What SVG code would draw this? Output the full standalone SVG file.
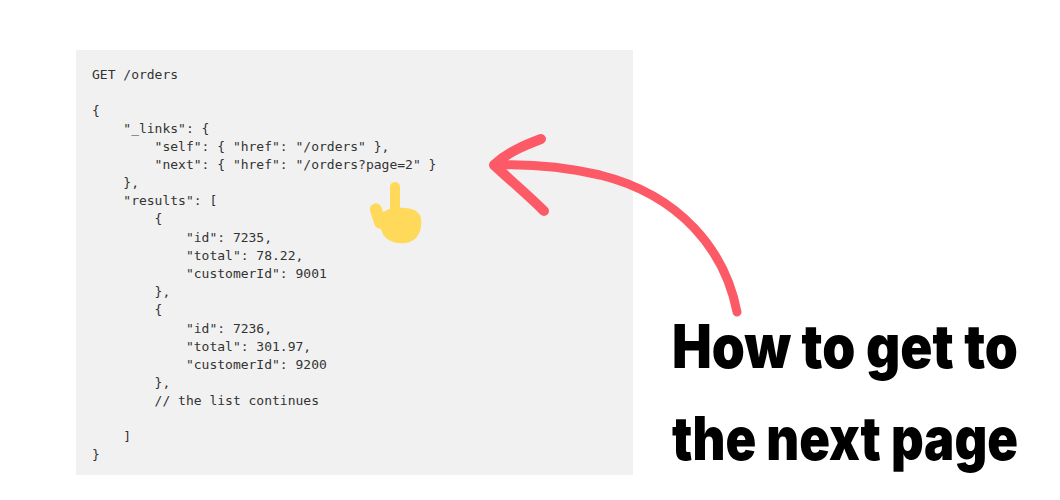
<svg xmlns="http://www.w3.org/2000/svg" width="1060" height="500" viewBox="0 0 1060 500">
<style>
.code{font-family:"DejaVu Sans Mono","Liberation Mono",monospace;font-size:13px;fill:#333;white-space:pre}
.big{font-family:Inter,"Liberation Sans",sans-serif;font-weight:900;font-size:60px;fill:#000}
</style>
<rect width="1060" height="500" fill="#fff"/>
<g id="code-block">
<rect x="76" y="50" width="557" height="425" fill="#f1f1f1"/>
<text class="code" xml:space="preserve"><tspan x="92" y="79">GET /orders</tspan><tspan x="92" y="115">{</tspan><tspan x="92" y="133">    "_links": {</tspan><tspan x="92" y="151">        "self": { "href": "/orders" },</tspan><tspan x="92" y="169">        "next": { "href": "/orders?page=2" }</tspan><tspan x="92" y="187">    },</tspan><tspan x="92" y="205">    "results": [</tspan><tspan x="92" y="223">        {</tspan><tspan x="92" y="242">            "id": 7235,</tspan><tspan x="92" y="260">            "total": 78.22,</tspan><tspan x="92" y="278">            "customerId": 9001</tspan><tspan x="92" y="296">        },</tspan><tspan x="92" y="314">        {</tspan><tspan x="92" y="333">            "id": 7236,</tspan><tspan x="92" y="351">            "total": 301.97,</tspan><tspan x="92" y="369">            "customerId": 9200</tspan><tspan x="92" y="387">        },</tspan><tspan x="92" y="405">        // the list continues</tspan><tspan x="92" y="441">    ]</tspan><tspan x="92" y="459">}</tspan></text>
</g>
<g id="hand" fill="#ffd95a">
<rect x="390" y="182" width="10" height="40" rx="5"/>
<rect x="372" y="203" width="12" height="26" rx="6" transform="rotate(-18 378 216)"/>
<path d="M380 214 Q392 206 404 208 Q418 208 421 218 Q423 236 410 242 Q396 246 386 238 Q378 230 380 214 Z"/>
</g>
<g id="connectors" fill="none" stroke="#fd5a67" stroke-linecap="round" stroke-linejoin="round">
<path d="M737 312 C725 250 680 195 600 175 C560 166 530 164 500 165" stroke-width="9"/>
<path d="M541 139 C525 145 508 152 494 165 C510 180 528 195 544 211" stroke-width="10"/>
</g>
<g id="caption">
<text class="big" x="672" y="368" textLength="346" lengthAdjust="spacingAndGlyphs">How to get to</text>
<text class="big" x="672" y="460" textLength="346" lengthAdjust="spacingAndGlyphs">the next page</text>
</g>
</svg>
